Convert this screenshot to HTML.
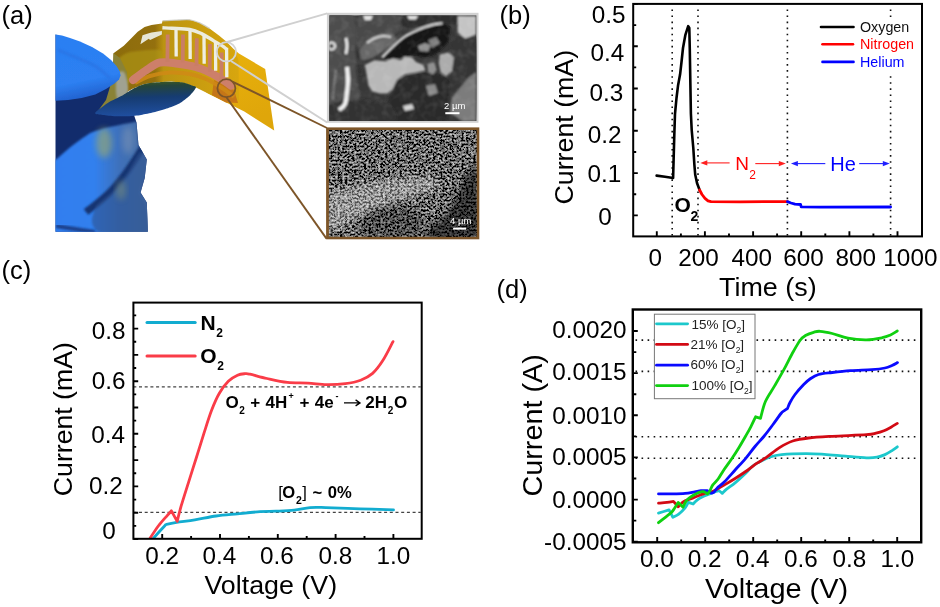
<!DOCTYPE html>
<html><head><meta charset="utf-8"><style>
html,body{margin:0;padding:0;background:#fff;width:940px;height:607px;overflow:hidden}
svg{display:block;font-family:"Liberation Sans", sans-serif;will-change:transform}
</style></head><body>
<svg width="940" height="607" viewBox="0 0 940 607">
<rect width="940" height="607" fill="#fff"/>
<defs>
<filter id="bl1" x="-10%" y="-10%" width="120%" height="120%"><feGaussianBlur stdDeviation="1.2"/></filter>
<filter id="bl2" x="-30%" y="-30%" width="160%" height="160%"><feGaussianBlur stdDeviation="3"/></filter>
<filter id="bl4" x="-30%" y="-30%" width="160%" height="160%"><feGaussianBlur stdDeviation="5"/></filter>
<filter id="bl05"><feGaussianBlur stdDeviation="0.5"/></filter>
<filter id="bl08"><feGaussianBlur stdDeviation="0.8"/></filter>
<linearGradient id="gIdx" x1="0" y1="0" x2="0.2" y2="1">
 <stop offset="0" stop-color="#2b7ff2"/><stop offset="0.75" stop-color="#2d80f2"/><stop offset="1" stop-color="#2262d0"/></linearGradient>
<linearGradient id="gMid" x1="0" y1="0" x2="1" y2="0">
 <stop offset="0" stop-color="#2f7ef0"/><stop offset="0.45" stop-color="#3280ee"/><stop offset="0.7" stop-color="#3f70b8"/><stop offset="1" stop-color="#4a6ea0"/></linearGradient>
<linearGradient id="gLow" x1="0" y1="0" x2="1" y2="0.4">
 <stop offset="0" stop-color="#2f7ae8"/><stop offset="0.6" stop-color="#2f6cc8"/><stop offset="1" stop-color="#3f6aa6"/></linearGradient>
<linearGradient id="gFilm" x1="0" y1="0" x2="1" y2="0">
 <stop offset="0" stop-color="#8c6c0c"/><stop offset="0.33" stop-color="#94700e"/><stop offset="0.40" stop-color="#bb9412"/><stop offset="1" stop-color="#d8a60e"/></linearGradient>
<linearGradient id="gStrip" x1="0" y1="0" x2="0.4" y2="1">
 <stop offset="0" stop-color="#e9b20c"/><stop offset="1" stop-color="#dfa60a"/></linearGradient>
<linearGradient id="gUnder" x1="0" y1="0" x2="0.1" y2="1">
 <stop offset="0" stop-color="#44601a"/><stop offset="0.18" stop-color="#24453c"/><stop offset="0.5" stop-color="#163c72"/><stop offset="1" stop-color="#1f4e9e"/></linearGradient>
<filter id="semN" x="0" y="0" width="100%" height="100%">
 <feTurbulence type="fractalNoise" baseFrequency="0.42 0.5" numOctaves="3" seed="11"/>
 <feColorMatrix type="matrix" values="1.5 0 0 0 -0.6  1.5 0 0 0 -0.6  1.5 0 0 0 -0.6  0 0 0 0 1"/>
 <feGaussianBlur stdDeviation="0.4"/>
</filter>
<filter id="semN1" x="0" y="0" width="100%" height="100%">
 <feTurbulence type="fractalNoise" baseFrequency="0.12" numOctaves="2" seed="5"/>
 <feColorMatrix type="matrix" values="0 0 0 0 1  0 0 0 0 1  0 0 0 0 1  1.2 0 0 0 -0.5"/>
</filter>
<clipPath id="cS1"><rect x="329.2" y="15.2" width="147.4" height="105.8"/></clipPath>
<clipPath id="cS2"><rect x="328.9" y="130" width="147.8" height="106.7"/></clipPath>
</defs>
<clipPath id="cGlove"><path d="M55.5,34.5 L70.8,40.4 L91.5,47.3 L108.8,59.4 L117.5,71.5 L121.0,81.9 L124.0,92.0 L128.0,104.0 L133.0,112.0 L136.5,122.4 L138.5,145.0 L146.8,159.4 L144.7,178.0 L140.6,192.4 L146.8,202.6 L147.8,231.8 L55.5,231.8 Z"/></clipPath>
<path d="M55.5,34.5 L70.8,40.4 L91.5,47.3 L108.8,59.4 L117.5,71.5 L121.0,81.9 L124.0,92.0 L128.0,104.0 L133.0,112.0 L136.5,122.4 L138.5,145.0 L146.8,159.4 L144.7,178.0 L140.6,192.4 L146.8,202.6 L147.8,231.8 L55.5,231.8 Z" fill="#122c6c"/>
<g clip-path="url(#cGlove)">
<path d="M50.0,162.0 C50.5,155.3 54.5,160.7 56.2,159.4 C57.9,158.2 67.7,149.2 70.6,147.0 C73.5,144.8 87.8,134.3 91.2,132.6 C94.6,130.9 108.4,127.3 111.8,126.5 C115.2,125.7 130.3,122.7 132.4,122.4 C134.5,122.1 136.4,121.1 137.0,123.0 C137.6,124.9 138.2,142.0 139.0,145.0 C139.8,148.0 146.5,156.7 147.0,159.4 C147.5,162.2 145.5,175.2 145.0,178.0 C144.5,180.8 140.8,190.3 141.0,192.4 C141.2,194.5 146.2,198.6 147.0,202.6 C147.8,206.6 158.1,236.9 150.0,240.0 C141.9,243.1 58.3,246.5 50.0,240.0 C41.7,233.5 49.5,168.7 50.0,162.0 Z" fill="url(#gMid)" filter="url(#bl1)"/>
<path d="M86.0,212.0 C87.5,210.8 91.0,208.3 95.0,205.0 C99.0,201.7 105.0,197.2 110.0,192.0 C115.0,186.8 120.7,179.7 125.0,174.0 C129.3,168.3 133.2,162.3 136.0,158.0 C138.8,153.7 141.0,149.7 142.0,148.0" stroke="#183672" stroke-width="7" fill="none" filter="url(#bl1)"/>
<path d="M96.0,206.0 C98.0,203.0 108.8,195.4 112.0,192.0 C115.2,188.6 125.2,176.0 128.0,172.0 C130.8,168.0 138.2,153.2 140.0,152.0 C141.8,150.8 145.5,157.4 146.0,160.0 C146.5,162.6 145.6,174.8 145.0,178.0 C144.4,181.2 139.9,189.4 140.0,192.0 C140.1,194.6 145.2,200.0 146.0,204.0 C146.8,208.0 152.6,229.2 148.0,232.0 C143.4,234.8 105.6,233.0 100.0,232.0 C94.4,231.0 92.4,224.6 92.0,222.0 C91.6,219.4 94.0,209.0 96.0,206.0 Z" fill="#2f5290" opacity="0.6" filter="url(#bl1)"/>
<path d="M56.0,226.0 C59.2,226.5 68.5,228.0 75.0,229.0 C81.5,230.0 91.7,231.5 95.0,232.0" stroke="#1a3f8a" stroke-width="4" fill="none" filter="url(#bl1)"/>
<ellipse cx="104" cy="143" rx="8" ry="15" fill="#a8b060" opacity="0.55" filter="url(#bl2)"/>
<ellipse cx="121" cy="190" rx="5" ry="10" fill="#8a9a70" opacity="0.45" filter="url(#bl2)"/>
<ellipse cx="128" cy="140" rx="6" ry="14" fill="#8a9cb8" opacity="0.45" filter="url(#bl2)"/>
</g>
<path d="M233.6,48.9 L238.9,53.6 L265.2,68.9 L274.2,130.5 L244.3,111.5 L226.2,102.5 L208.1,93.4 L200.0,88.0 Z" fill="url(#gStrip)"/>
<path d="M113.5,53.3 L123.8,45.7 L130.8,38.8 L137.7,31.8 L144.6,27.0 L151.5,24.9 L161.9,23.5 L162.6,20.8 L175.0,20.2 L189.7,19.8 L199.2,22.7 L209.9,28.7 L219.3,35.8 L226.5,41.7 L233.6,48.9 L238.5,60.0 L239.0,100.0 L226.2,102.5 L208.1,93.4 L196.0,87.4 L184.2,83.0 L171.5,81.5 L156.4,82.3 L143.6,84.3 L132.0,89.0 L122.0,95.0 L113.6,97.0 Z" fill="url(#gFilm)"/>
<path d="M118.0,60.0 C119.0,56.7 125.8,53.0 130.0,52.0 C134.2,51.0 156.8,48.8 160.0,50.0 C163.2,51.2 163.0,61.8 162.0,64.0 C161.0,66.2 152.8,70.4 150.0,72.0 C147.2,73.6 137.0,78.7 134.0,80.0 C131.0,81.3 121.6,87.0 120.0,85.0 C118.4,83.0 117.0,63.3 118.0,60.0 Z" fill="#b09a18" opacity="0.6" filter="url(#bl1)"/>
<path d="M113.5,53.3 L120.0,58.0 L127.0,72.0 L128.0,98.0 L122.0,104.0 L96.0,113.5 L106.0,100.0 L112.0,80.0 Z" fill="#8a8236"/>
<path d="M117.0,74.0 C118.1,71.3 122.5,70.4 124.0,72.0 C125.5,73.6 127.7,82.3 128.0,86.0 C128.3,89.7 127.2,97.6 126.0,100.0 C124.8,102.4 120.3,105.1 119.0,104.0 C117.7,102.9 116.3,96.0 116.0,92.0 C115.7,88.0 115.9,76.7 117.0,74.0 Z" fill="#aab0b8" opacity="0.7" filter="url(#bl08)"/>
<path d="M95.1,113.0 C95.8,111.5 106.1,104.1 109.2,102.1 C112.3,100.1 119.2,97.2 121.9,95.7 C124.6,94.2 129.6,90.7 132.1,89.4 C134.6,88.1 140.8,85.1 143.6,84.3 C146.4,83.5 153.4,82.6 156.4,82.3 C159.4,82.0 166.2,81.7 169.2,81.7 C172.2,81.7 179.2,81.9 181.9,82.3 C184.6,82.7 190.5,84.9 192.1,85.5 C193.7,86.1 196.3,86.2 196.0,87.4 C195.7,88.6 191.5,93.8 189.6,95.7 C187.7,97.6 182.1,101.9 179.4,103.4 C176.7,104.9 169.6,107.5 166.6,108.5 C163.6,109.5 156.8,111.6 153.8,112.3 C150.8,113.0 144.1,114.4 141.1,114.9 C138.1,115.4 131.3,116.0 128.3,116.2 C125.3,116.4 118.5,116.4 115.5,116.2 C112.5,116.0 105.2,115.3 102.8,114.9 C100.4,114.5 94.4,114.5 95.1,113.0 Z" fill="url(#gUnder)"/>
<path d="M55.5,34.5 L62.0,35.5 L70.0,38.0 L80.0,41.5 L92.0,47.0 L103.0,53.5 L111.0,60.0 L116.5,66.0 L119.8,71.5 L120.6,75.5 L119.0,79.5 L114.5,83.5 L106.0,89.0 L95.3,94.4 L81.7,98.0 L68.1,99.9 L55.5,100.8 Z" fill="url(#gIdx)" filter="url(#bl05)"/>
<path d="M58.0,50.0 C60.8,51.2 68.8,54.3 75.0,57.0 C81.2,59.7 89.2,62.5 95.0,66.0 C100.8,69.5 107.5,76.0 110.0,78.0" stroke="#2a72e2" stroke-width="3" fill="none" filter="url(#bl1)" opacity="0.7"/>
<path d="M214.0,80.0 L234.0,90.0 L238.0,103.0 L226.0,102.5 L212.0,95.0 Z" fill="#c0641a" opacity="0.7" filter="url(#bl05)"/>
<path d="M135.0,83.0 C137.5,81.8 144.2,77.8 150.0,76.0 C155.8,74.2 163.3,72.8 170.0,72.5 C176.7,72.2 184.0,72.9 190.0,74.0 C196.0,75.1 200.7,76.7 206.0,79.0 C211.3,81.3 217.3,85.0 222.0,88.0 C226.7,91.0 232.0,95.5 234.0,97.0" stroke="#d08a14" stroke-width="4" fill="none" opacity="0.85" filter="url(#bl05)"/>
<path d="M133.0,80.0 C135.0,78.5 140.5,73.9 145.0,71.0 C149.5,68.1 154.5,63.7 160.0,62.5 C165.5,61.3 171.9,63.0 177.8,63.7 C183.7,64.5 190.2,65.5 195.6,67.0 C200.9,68.5 205.6,70.6 209.9,72.6 C214.2,74.6 218.1,77.0 221.7,79.2 C225.2,81.4 229.6,84.5 231.2,85.6" stroke="#cd7f6a" stroke-width="8" fill="none" stroke-linecap="round"/>
<line x1="167.7" y1="34.6" x2="167.39999999999998" y2="62" stroke="#c97e66" stroke-width="3.8"/>
<line x1="183" y1="34.6" x2="182.7" y2="62.5" stroke="#c97e66" stroke-width="3.8"/>
<line x1="196.8" y1="38.2" x2="196.5" y2="66" stroke="#c97e66" stroke-width="3.8"/>
<line x1="210" y1="44.1" x2="209.7" y2="72" stroke="#c97e66" stroke-width="3.8"/>
<line x1="221.7" y1="52.4" x2="221.39999999999998" y2="80" stroke="#c97e66" stroke-width="3.8"/>
<path d="M162.4,27.8 C164.0,27.9 167.4,28.0 171.9,28.3 C176.4,28.6 184.8,28.6 189.7,29.5 C194.6,30.4 197.6,31.8 201.5,33.6 C205.4,35.5 209.6,38.4 213.4,40.6 C217.2,42.9 221.8,45.5 224.1,47.1 C226.4,48.7 226.5,49.5 227.0,50.0" stroke="#ececdf" stroke-width="3.4" fill="none"/>
<path d="M140.4,44.3 L142.5,35.3 L148.8,33.2 L151.5,32.5 L161.9,31.1 L161.9,34.6 L150.1,40.1 L148.8,38.8 Z" fill="#e6e6d6"/>
<line x1="176" y1="29.9" x2="176.2" y2="56.6" stroke="#eeeee2" stroke-width="3.3"/>
<line x1="190" y1="31" x2="190.2" y2="59" stroke="#eeeee2" stroke-width="3.3"/>
<line x1="204" y1="35.8" x2="204.2" y2="63.7" stroke="#eeeee2" stroke-width="3.3"/>
<line x1="215.5" y1="41.7" x2="215.7" y2="70.8" stroke="#eeeee2" stroke-width="3.3"/>
<line x1="226.6" y1="47.7" x2="226.79999999999998" y2="77.3" stroke="#eeeee2" stroke-width="3.3"/>
<path d="M162.6,20.8 C164.7,20.7 170.5,20.4 175.0,20.2 C179.5,20.0 185.7,19.4 189.7,19.8 C193.7,20.2 195.8,21.2 199.2,22.7 C202.6,24.2 208.1,27.7 209.9,28.7" stroke="#c8c8c0" stroke-width="1.3" fill="none" opacity="0.8"/>
<circle cx="226.4" cy="51.8" r="9.6" fill="none" stroke="#d4d4d4" stroke-width="1.8"/>
<line x1="226.4" y1="42.2" x2="327.2" y2="13.4" stroke="#d0d0d0" stroke-width="2"/>
<line x1="231" y1="61" x2="327.2" y2="122.5" stroke="#d0d0d0" stroke-width="2"/>
<circle cx="226.4" cy="88.2" r="9" fill="none" stroke="#7d5528" stroke-width="1.8"/>
<line x1="232.9" y1="81.8" x2="327" y2="128" stroke="#7d5528" stroke-width="1.9"/>
<line x1="226.4" y1="97.2" x2="326.5" y2="238.6" stroke="#7d5528" stroke-width="1.9"/>
<rect x="326.9" y="12.8" width="151.6" height="110" fill="#d2d2d2"/>
<g clip-path="url(#cS1)">
<rect x="329.2" y="15.2" width="147.4" height="105.8" fill="#383838"/>
<g filter="url(#bl08)">
<path d="M329.0,15.0 C331.3,4.4 349.1,12.5 352.0,15.0 C354.9,17.5 357.6,34.5 358.0,40.0 C358.4,45.5 355.8,64.0 356.0,70.0 C356.2,76.0 360.0,94.9 360.0,100.0 C360.0,105.1 359.1,118.9 356.0,121.0 C352.9,123.1 331.7,131.6 329.0,121.0 C326.3,110.4 326.7,25.6 329.0,15.0 Z" fill="#4e4e4e"/>
<path d="M360.0,15.0 C364.4,12.5 395.5,13.7 400.0,15.0 C404.5,16.3 406.5,25.5 405.0,28.0 C403.5,30.5 388.5,37.3 385.0,40.0 C381.5,42.7 372.3,53.0 370.0,55.0 C367.7,57.0 363.4,61.5 362.0,60.0 C360.6,58.5 356.2,44.5 356.0,40.0 C355.8,35.5 355.6,17.5 360.0,15.0 Z" fill="#4a4a4a"/>
<path d="M360.0,50.0 C360.6,48.0 366.0,41.6 368.0,40.0 C370.0,38.4 377.6,34.7 380.0,34.0 C382.4,33.3 390.4,32.4 392.0,33.0 C393.6,33.6 396.7,38.3 396.0,40.0 C395.3,41.7 387.4,48.2 385.0,50.0 C382.6,51.8 374.3,57.0 372.0,58.0 C369.7,59.0 363.2,60.8 362.0,60.0 C360.8,59.2 359.4,52.0 360.0,50.0 Z" fill="#686868"/>
<path d="M381.9,57.4 C382.0,56.2 389.0,50.0 391.3,47.9 C393.6,45.8 401.8,38.4 404.6,36.5 C407.5,34.6 417.2,30.1 419.8,29.0 C422.4,27.9 428.8,25.8 431.1,25.2 C433.4,24.6 440.6,23.0 442.5,23.3 C444.4,23.6 449.4,26.1 450.0,28.0 C450.6,29.9 449.2,39.6 448.0,42.0 C446.8,44.4 440.0,50.5 438.0,52.0 C436.0,53.5 430.4,56.6 428.0,57.0 C425.6,57.4 416.8,55.9 414.0,56.0 C411.2,56.1 402.4,57.6 400.0,58.0 C397.6,58.4 391.8,60.1 390.0,60.0 C388.2,59.9 381.8,58.6 381.9,57.4 Z" fill="#171717"/>
<path d="M405.0,15.5 C410.4,14.4 450.9,14.7 456.0,15.5 C461.1,16.4 458.1,23.1 456.0,24.0 C453.9,24.9 439.1,23.6 435.0,24.0 C430.9,24.4 418.3,27.8 415.0,28.0 C411.7,28.2 403.0,27.2 402.0,26.0 C401.0,24.8 399.6,16.6 405.0,15.5 Z" fill="#2e2e2e"/>
<path d="M398.0,80.0 C401.5,76.8 413.1,73.7 418.0,73.0 C422.9,72.3 436.0,72.7 440.0,74.0 C444.0,75.3 450.2,80.4 452.0,84.0 C453.8,87.6 455.8,100.7 455.0,105.0 C454.2,109.3 452.4,119.1 445.0,121.0 C437.6,122.9 398.6,123.5 392.0,121.0 C385.4,118.5 387.3,104.8 388.0,100.0 C388.7,95.2 394.5,83.2 398.0,80.0 Z" fill="#2a2a2a"/>
<path d="M452.0,40.0 C454.6,35.8 473.6,29.9 476.0,38.0 C478.4,46.1 478.8,112.7 476.0,121.0 C473.2,129.3 450.6,125.1 448.0,121.0 C445.4,116.9 449.6,88.1 450.0,80.0 C450.4,71.9 449.4,44.2 452.0,40.0 Z" fill="#353535"/>
<path d="M330.0,104.0 C333.0,101.9 354.0,100.0 360.0,100.0 C366.0,100.0 386.5,101.9 390.0,104.0 C393.5,106.1 401.0,119.3 395.0,121.0 C389.0,122.7 336.5,122.7 330.0,121.0 C323.5,119.3 327.0,106.1 330.0,104.0 Z" fill="#333"/>
<path d="M364.8,65.0 L374.3,60.2 L385.6,61.2 L393.2,58.3 L400.8,60.2 L404.6,56.4 L412.2,57.4 L416.0,62.1 L423.5,65.0 L425.4,70.6 L416.0,72.5 L404.6,74.4 L397.0,80.1 L392.3,89.6 L387.5,93.4 L380.0,93.4 L372.4,91.5 L368.6,85.8 L366.7,74.4 Z" fill="#b8b8b8"/>
<path d="M439.7,54.5 L448.2,52.6 L453.9,57.4 L452.0,70.6 L446.3,76.3 L440.6,72.5 L438.7,63.1 Z" fill="#acacac"/>
<path d="M427.3,64.0 L434.0,62.0 L436.8,70.0 L433.0,74.4 L428.0,72.0 Z" fill="#909090"/>
<path d="M418.0,46.0 L425.0,43.0 L431.0,45.0 L428.0,51.7 L420.0,51.0 Z" fill="#8e8e8e"/>
<path d="M428.0,40.0 L436.0,37.0 L440.0,43.0 L432.0,48.0 Z" fill="#7e7e7e"/>
<path d="M457.7,16.0 L476.0,16.0 L476.0,34.6 L465.2,38.4 L457.7,32.7 Z" fill="#c4c4c4"/>
<path d="M452.0,98.0 L468.0,78.0 L476.0,72.0 L476.0,121.0 L462.0,121.0 L450.0,112.0 Z" fill="#7c7c7c"/>
<path d="M426.0,86.0 L435.0,84.0 L438.0,93.0 L429.0,96.0 Z" fill="#8c8c8c"/>
<path d="M403.0,106.0 L412.0,104.0 L414.0,109.0 L405.0,111.0 Z" fill="#d4d4d4"/>
<path d="M363.0,15.5 L373.0,15.5 L371.0,20.0 L365.0,20.0 Z" fill="#e4e4e4"/>
<path d="M407.0,15.5 L418.0,15.5 L416.0,19.5 L409.0,19.5 Z" fill="#e4e4e4"/>
<path d="M381.9,57.4 C383.5,55.8 387.5,51.4 391.3,47.9 C395.1,44.4 399.9,39.6 404.6,36.5 C409.4,33.4 415.4,30.9 419.8,29.0 C424.2,27.1 427.3,26.1 431.1,25.2 C434.9,24.2 440.6,23.6 442.5,23.3" stroke="#e4e4e4" stroke-width="2" fill="none"/>
<path d="M367.0,43.0 C368.2,42.2 371.3,39.7 374.0,38.5 C376.7,37.3 380.2,36.2 383.0,36.0 C385.8,35.8 389.7,36.8 391.0,37.0" stroke="#d8d8d8" stroke-width="2" fill="none"/>
<path d="M346.0,38.0 C346.2,39.3 347.0,43.3 347.0,46.0 C347.0,48.7 346.2,52.7 346.0,54.0" stroke="#f4f4f4" stroke-width="2.5" fill="none"/>
<path d="M347.0,67.0 C347.2,69.2 348.0,75.8 348.0,80.0 C348.0,84.2 347.5,88.0 347.0,92.0 C346.5,96.0 346.3,101.0 345.0,104.0 C343.7,107.0 340.0,109.0 339.0,110.0" stroke="#f4f4f4" stroke-width="4" fill="none"/>
<circle cx="331.5" cy="46" r="3.5" fill="none" stroke="#eee" stroke-width="2"/>
<path d="M356.0,45.0 C356.3,47.5 357.3,55.0 358.0,60.0 C358.7,65.0 359.7,72.5 360.0,75.0" stroke="#333" stroke-width="3" fill="none"/>
<path d="M336.0,70.0 C335.7,72.5 334.5,80.0 334.0,85.0 C333.5,90.0 333.2,97.5 333.0,100.0" stroke="#777" stroke-width="2" fill="none"/>
</g>
<rect x="329.2" y="15.2" width="147.4" height="105.8" filter="url(#semN1)" opacity="0.18"/>
<text x="444" y="108.5" font-size="9.5" fill="#fff">2 µm</text>
<rect x="445.3" y="112.2" width="14.2" height="2" fill="#fff"/>
</g>
<rect x="326.1" y="127.4" width="153.2" height="111.9" fill="#7d5528"/>
<g clip-path="url(#cS2)">
<rect x="328.9" y="130" width="147.8" height="106.7" filter="url(#semN)"/>
<path d="M329.0,195.0 C334.2,187.5 348.2,187.8 360.0,185.0 C371.8,182.2 388.0,179.2 400.0,178.0 C412.0,176.8 425.3,176.7 432.0,178.0 C438.7,179.3 442.8,183.0 440.0,186.0 C437.2,189.0 425.0,192.3 415.0,196.0 C405.0,199.7 390.8,203.7 380.0,208.0 C369.2,212.3 358.5,218.3 350.0,222.0 C341.5,225.7 332.5,234.5 329.0,230.0 C325.5,225.5 323.8,202.5 329.0,195.0 Z" fill="#fff" opacity="0.32" filter="url(#bl2)"/>
<path d="M465.0,178.0 C468.2,173.5 475.0,158.2 477.0,168.0 C479.0,177.8 485.7,225.5 477.0,237.0 C468.3,248.5 430.3,240.7 425.0,237.0 C419.7,233.3 439.5,222.0 445.0,215.0 C450.5,208.0 454.7,201.2 458.0,195.0 C461.3,188.8 461.8,182.5 465.0,178.0 Z" fill="#000" opacity="0.55" filter="url(#bl2)"/>
<path d="M365.0,215.0 C370.0,209.8 385.8,206.2 395.0,206.0 C404.2,205.8 416.7,208.8 420.0,214.0 C423.3,219.2 424.2,233.2 415.0,237.0 C405.8,240.8 373.3,240.7 365.0,237.0 C356.7,233.3 360.0,220.2 365.0,215.0 Z" fill="#000" opacity="0.25" filter="url(#bl2)"/>
<text x="450" y="223.5" font-size="9.5" fill="#fff">4 µm</text>
<rect x="453.1" y="227.6" width="12.9" height="2" fill="#fff"/>
</g>
<text x="1.5" y="24" font-size="25.5" text-anchor="start" font-weight="normal" fill="#000" >(a)</text>
<text x="499.5" y="23.7" font-size="25.5" text-anchor="start" font-weight="normal" fill="#000" >(b)</text>
<text x="1.5" y="279.4" font-size="25.5" text-anchor="start" font-weight="normal" fill="#000" >(c)</text>
<text x="496.5" y="297.8" font-size="25.5" text-anchor="start" font-weight="normal" fill="#000" >(d)</text>
<line x1="672.2" y1="9.4" x2="672.2" y2="235.4" stroke="#111" stroke-width="1.6" stroke-dasharray="1.6 4.47"/>
<line x1="698.0" y1="9.4" x2="698.0" y2="235.4" stroke="#111" stroke-width="1.6" stroke-dasharray="1.6 4.47"/>
<line x1="787.4" y1="9.4" x2="787.4" y2="235.4" stroke="#111" stroke-width="1.6" stroke-dasharray="1.6 4.47"/>
<line x1="890.6" y1="9.4" x2="890.6" y2="235.4" stroke="#111" stroke-width="1.6" stroke-dasharray="1.6 4.47"/>
<path d="M633.2,215.4h4.6 M633.2,194.2h3.0 M633.2,173.1h4.6 M633.2,152.0h3.0 M633.2,130.8h4.6 M633.2,109.7h3.0 M633.2,88.5h4.6 M633.2,67.4h3.0 M633.2,46.2h4.6 M633.2,25.1h3.0 M633.2,3.9h4.6 M656.8,236.4v-5.2 M680.9,236.4v-2.8 M704.9,236.4v-5.2 M729.0,236.4v-2.8 M753.1,236.4v-5.2 M777.1,236.4v-2.8 M801.2,236.4v-5.2 M825.3,236.4v-2.8 M849.4,236.4v-5.2 M873.4,236.4v-2.8 M897.5,236.4v-5.2" stroke="#000" stroke-width="1.9" fill="none"/>
<polyline points="656.6,175.6 665.0,176.8 673.1,178.0 673.6,160.0 674.3,135.0 675.0,113.8 676.5,98.0 678.0,85.8 680.1,74.3 681.5,62.0 683.0,48.0 685.4,34.8 688.2,26.2 689.3,28.0 689.8,50.0 690.3,80.0 690.9,113.8 691.7,130.0 693.3,148.0 694.4,165.0 695.2,174.5 697.0,183.0 699.6,190.0" fill="none" stroke="#000" stroke-width="2.6" stroke-linejoin="round" stroke-linecap="round" />
<polyline points="699.6,190.0 702.0,194.5 705.0,198.3 708.0,200.8 711.0,201.7 740.0,201.8 787.4,201.6" fill="none" stroke="#ff0000" stroke-width="2.8" stroke-linejoin="round" stroke-linecap="round" />
<polyline points="787.4,201.6 791.0,203.0 795.0,204.1 800.6,204.5 801.2,206.9 820.0,207.1 890.6,207.0" fill="none" stroke="#0000ff" stroke-width="2.8" stroke-linejoin="round" stroke-linecap="round" />
<line x1="729.6" y1="162.9" x2="705.9" y2="162.9" stroke="#ff2020" stroke-width="1.1"/><path d="M700.3,162.9 L707.3,160.3 L707.3,165.5 Z" fill="#ff2020"/>
<line x1="755.3" y1="163.6" x2="780.1999999999999" y2="163.6" stroke="#ff2020" stroke-width="1.1"/><path d="M785.8,163.6 L778.8,161.0 L778.8,166.2 Z" fill="#ff2020"/>
<text x="735.3" y="169.6" font-size="19" text-anchor="start" font-weight="normal" fill="#ff0000" >N</text>
<text x="749.3" y="178.9" font-size="12" text-anchor="start" font-weight="normal" fill="#ff0000" >2</text>
<line x1="825.3" y1="163.6" x2="796.5" y2="163.6" stroke="#2020ff" stroke-width="1.1"/><path d="M790.9,163.6 L797.9,161.0 L797.9,166.2 Z" fill="#2020ff"/>
<line x1="859.2" y1="163.6" x2="884.1999999999999" y2="163.6" stroke="#2020ff" stroke-width="1.1"/><path d="M889.8,163.6 L882.8,161.0 L882.8,166.2 Z" fill="#2020ff"/>
<text x="830.2" y="170.7" font-size="20" text-anchor="start" font-weight="normal" fill="#0000ff" >He</text>
<text x="674.45" y="212.3" font-size="21" text-anchor="start" font-weight="bold" fill="#000" >O</text>
<text x="690.6" y="221.0" font-size="14" text-anchor="start" font-weight="bold" fill="#000" >2</text>
<rect x="812" y="17.5" width="106" height="56.5" fill="#fff"/>
<line x1="821" y1="27" x2="853.5" y2="27" stroke="#000" stroke-width="2.6" stroke-linecap="round"/>
<line x1="822.5" y1="44.2" x2="853" y2="44.2" stroke="#ff0000" stroke-width="2.6" stroke-linecap="round"/>
<line x1="822.5" y1="61.9" x2="853.5" y2="61.9" stroke="#0000ff" stroke-width="2.6" stroke-linecap="round"/>
<text x="860.0" y="32.1" font-size="14.3" text-anchor="start" font-weight="normal" fill="#111" >Oxygen</text>
<text x="860.0" y="49.4" font-size="14.3" text-anchor="start" font-weight="normal" fill="#ff0000" >Nitrogen</text>
<text x="860.0" y="66.7" font-size="14.3" text-anchor="start" font-weight="normal" fill="#0000ff" >Helium</text>
<rect x="633.2" y="3.9" width="288.8" height="232.5" fill="none" stroke="#000" stroke-width="2"/>
<text x="608.6" y="22.9" font-size="24.3" text-anchor="middle" font-weight="normal" fill="#000" >0.5</text>
<text x="607.4" y="61.0" font-size="24.3" text-anchor="middle" font-weight="normal" fill="#000" >0.4</text>
<text x="606.4" y="100.8" font-size="24.3" text-anchor="middle" font-weight="normal" fill="#000" >0.3</text>
<text x="604.7" y="142.7" font-size="24.3" text-anchor="middle" font-weight="normal" fill="#000" >0.2</text>
<text x="604.5" y="182.4" font-size="24.3" text-anchor="middle" font-weight="normal" fill="#000" >0.1</text>
<text x="604.9" y="224.7" font-size="24.3" text-anchor="middle" font-weight="normal" fill="#000" >0</text>
<text x="655.2" y="265.6" font-size="24.3" text-anchor="middle" font-weight="normal" fill="#000" >0</text>
<text x="698.6" y="265.6" font-size="24.3" text-anchor="middle" font-weight="normal" fill="#000" >200</text>
<text x="751.7" y="265.6" font-size="24.3" text-anchor="middle" font-weight="normal" fill="#000" >400</text>
<text x="803.6" y="265.6" font-size="24.3" text-anchor="middle" font-weight="normal" fill="#000" >600</text>
<text x="855.8" y="265.6" font-size="24.3" text-anchor="middle" font-weight="normal" fill="#000" >800</text>
<text x="910.4" y="265.6" font-size="24.3" text-anchor="middle" font-weight="normal" fill="#000" >1000</text>
<text transform="translate(572.6,127.2) rotate(-90) scale(1.018,1)" font-size="26.3" text-anchor="middle">Current (mA)</text>
<text transform="translate(767.85,295.6) scale(1.03,1)" font-size="26.1" text-anchor="middle">Time (s)</text>
<line x1="133.3" y1="386.8" x2="420.7" y2="386.8" stroke="#444" stroke-width="1.2" stroke-dasharray="3 2.7"/>
<line x1="133.3" y1="512.3" x2="420.7" y2="512.3" stroke="#444" stroke-width="1.2" stroke-dasharray="3 2.7"/>
<path d="M133.4,539.0h4.8 M133.4,525.9h2.8 M133.4,512.7h4.8 M133.4,499.6h2.8 M133.4,486.4h4.8 M133.4,473.2h2.8 M133.4,460.1h4.8 M133.4,446.9h2.8 M133.4,433.8h4.8 M133.4,420.6h2.8 M133.4,407.5h4.8 M133.4,394.4h2.8 M133.4,381.2h4.8 M133.4,368.0h2.8 M133.4,354.9h4.8 M133.4,341.8h2.8 M133.4,328.6h4.8 M133.4,315.4h2.8 M162.2,538.8v-4.8 M191.1,538.8v-2.8 M220.0,538.8v-4.8 M248.9,538.8v-2.8 M277.8,538.8v-4.8 M306.7,538.8v-2.8 M335.6,538.8v-4.8 M364.5,538.8v-2.8 M393.4,538.8v-4.8" stroke="#000" stroke-width="1.9" fill="none"/>
<clipPath id="clipC"><rect x="133.4" y="302.6" width="288.3" height="236.2"/></clipPath><g clip-path="url(#clipC)">
<path d="M152.20,539.70 C153.33,538.42 156.72,534.53 159.00,532.00 C161.28,529.47 164.75,525.75 165.90,524.50 L165.90,524.50 C167.68,524.15 171.78,523.17 176.60,522.40 C181.42,521.63 188.22,520.97 194.80,519.90 C201.38,518.83 208.98,517.02 216.10,516.00 C223.22,514.98 230.18,514.52 237.50,513.80 C244.82,513.08 253.57,512.13 260.00,511.70 C266.43,511.27 270.40,511.47 276.10,511.20 C281.80,510.93 288.55,510.70 294.20,510.10 C299.85,509.50 304.73,508.02 310.00,507.60 C315.27,507.18 317.47,507.40 325.80,507.60 C334.13,507.80 348.72,508.42 360.00,508.80 C371.28,509.18 387.92,509.72 393.50,509.90" fill="none" stroke="#12acd0" stroke-width="2.8" stroke-linejoin="round" stroke-linecap="round"/>
<path d="M149.10,539.70 C150.63,537.42 155.25,530.07 158.30,526.00 C161.35,521.93 165.22,517.83 167.40,515.30 C169.58,512.77 170.73,511.55 171.40,510.80 L171.40,510.80 C172.37,512.57 176.23,519.63 177.20,521.40 L177.20,521.40 C177.85,518.87 179.18,512.80 181.10,506.20 C183.02,499.60 186.15,489.92 188.70,481.80 C191.25,473.68 193.85,465.62 196.40,457.50 C198.95,449.38 201.47,440.97 204.00,433.10 C206.53,425.23 209.07,416.90 211.60,410.30 C214.13,403.70 216.42,398.33 219.20,393.50 C221.98,388.67 225.25,384.35 228.30,381.30 C231.35,378.25 234.70,376.47 237.50,375.20 C240.30,373.93 243.02,373.87 245.10,373.70 C247.18,373.53 246.35,373.40 250.00,374.20 C253.65,375.00 260.77,377.13 267.00,378.50 C273.23,379.87 280.58,381.63 287.40,382.40 C294.22,383.17 301.37,382.73 307.90,383.10 C314.43,383.47 320.37,384.52 326.60,384.60 C332.83,384.68 339.63,384.33 345.30,383.60 C350.97,382.87 356.05,381.90 360.60,380.20 C365.15,378.50 368.90,376.67 372.60,373.40 C376.30,370.13 379.40,365.90 382.80,360.60 C386.20,355.30 391.30,344.77 393.00,341.60" fill="none" stroke="#fa3c48" stroke-width="2.8" stroke-linejoin="round" stroke-linecap="round"/>
</g>
<line x1="147" y1="322.5" x2="195.2" y2="322.5" stroke="#12acd0" stroke-width="3" stroke-linecap="round"/>
<line x1="147" y1="355.9" x2="195.2" y2="355.9" stroke="#fa3c48" stroke-width="3" stroke-linecap="round"/>
<text x="200.5" y="329.8" font-size="21" text-anchor="start" font-weight="bold" fill="#000" >N</text>
<text x="216.3" y="337.1" font-size="12" text-anchor="start" font-weight="bold" fill="#000" >2</text>
<text x="200.3" y="362.9" font-size="21" text-anchor="start" font-weight="bold" fill="#000" >O</text>
<text x="217.2" y="370.2" font-size="12" text-anchor="start" font-weight="bold" fill="#000" >2</text>
<text font-weight="bold" font-size="17"><tspan x="225.6" y="407.7">O</tspan><tspan x="239.2" y="413.9" font-size="10">2</tspan><tspan x="250.2" y="407.7">+</tspan><tspan x="265.6" y="407.7">4H</tspan><tspan x="288.4" y="399.2" font-size="9">+</tspan><tspan x="299.5" y="407.7">+</tspan><tspan x="314.7" y="407.7">4e</tspan><tspan x="335.4" y="398.9" font-size="9">-</tspan><tspan x="365.3" y="407.7">2H</tspan><tspan x="387.7" y="413.9" font-size="10">2</tspan><tspan x="393.9" y="407.7">O</tspan></text>
<path d="M344,402.9 H359.6 M355.6,399.9 L360,402.9 L355.6,405.9" fill="none" stroke="#000" stroke-width="1.3" stroke-linejoin="miter"/>
<text font-size="16.6"><tspan x="278.2" y="498.2">[</tspan><tspan x="282.3" y="498.2" font-weight="bold">O</tspan><tspan x="295.9" y="503.9" font-size="10.5" font-weight="bold">2</tspan><tspan x="302.2" y="498.2">]</tspan><tspan x="312.4" y="498.2" font-weight="bold">~</tspan><tspan x="327.8" y="498.2" font-weight="bold">0%</tspan></text>
<rect x="133.4" y="302.6" width="288.3" height="236.2" fill="none" stroke="#000" stroke-width="2"/>
<text x="108.75" y="339.0" font-size="24.3" text-anchor="middle" font-weight="normal" fill="#000" >0.8</text>
<text x="108.7" y="388.6" font-size="24.3" text-anchor="middle" font-weight="normal" fill="#000" >0.6</text>
<text x="108.2" y="442.6" font-size="24.3" text-anchor="middle" font-weight="normal" fill="#000" >0.4</text>
<text x="105.8" y="494.1" font-size="24.3" text-anchor="middle" font-weight="normal" fill="#000" >0.2</text>
<text x="109.0" y="539.3" font-size="24.3" text-anchor="middle" font-weight="normal" fill="#000" >0</text>
<text x="162.2" y="563.8" font-size="24.3" text-anchor="middle" font-weight="normal" fill="#000" >0.2</text>
<text x="219.5" y="563.8" font-size="24.3" text-anchor="middle" font-weight="normal" fill="#000" >0.4</text>
<text x="277.0" y="563.8" font-size="24.3" text-anchor="middle" font-weight="normal" fill="#000" >0.6</text>
<text x="335.4" y="563.8" font-size="24.3" text-anchor="middle" font-weight="normal" fill="#000" >0.8</text>
<text x="393.5" y="563.8" font-size="24.3" text-anchor="middle" font-weight="normal" fill="#000" >1.0</text>
<text transform="translate(72.4,419.2) rotate(-90) scale(1.013,1)" font-size="26.3" text-anchor="middle">Current (mA)</text>
<text transform="translate(270.75,593.6) scale(1.02,1)" font-size="26.3" text-anchor="middle">Voltage (V)</text>
<line x1="635.5" y1="340.1" x2="917.2" y2="340.1" stroke="#111" stroke-width="1.6" stroke-dasharray="1.6 4.45"/>
<line x1="635.5" y1="371.4" x2="917.2" y2="371.4" stroke="#111" stroke-width="1.6" stroke-dasharray="1.6 4.45"/>
<line x1="635.5" y1="436.8" x2="917.2" y2="436.8" stroke="#111" stroke-width="1.6" stroke-dasharray="1.6 4.45"/>
<line x1="635.5" y1="458.3" x2="917.2" y2="458.3" stroke="#111" stroke-width="1.6" stroke-dasharray="1.6 4.45"/>
<path d="M632.8,541.7h5 M632.8,520.6h3.5 M632.8,499.6h5 M632.8,478.5h3.5 M632.8,457.4h5 M632.8,436.4h3.5 M632.8,415.3h5 M632.8,394.2h3.5 M632.8,373.1h5 M632.8,352.1h3.5 M632.8,331.0h5 M657.2,542.3v-5.2 M681.2,542.3v-2.8 M705.2,542.3v-5.2 M729.2,542.3v-2.8 M753.2,542.3v-5.2 M777.2,542.3v-2.8 M801.2,542.3v-5.2 M825.2,542.3v-2.8 M849.2,542.3v-5.2 M873.2,542.3v-2.8 M897.2,542.3v-5.2" stroke="#000" stroke-width="1.9" fill="none"/>
<path d="M658.50,513.10 C660.27,512.57 667.33,510.43 669.10,509.90 L669.10,509.90 C669.73,511.13 672.27,516.07 672.90,517.30 L672.90,517.30 C673.87,516.77 676.67,515.68 678.70,514.10 C680.73,512.52 683.50,509.75 685.10,507.80 C686.70,505.85 687.77,503.30 688.30,502.40 L688.30,502.40 C689.10,502.67 692.30,503.73 693.10,504.00 L693.10,504.00 C693.72,503.38 695.30,501.45 696.80,500.30 C698.30,499.15 699.97,498.17 702.10,497.10 C704.23,496.03 707.28,494.87 709.60,493.90 C711.92,492.93 714.42,491.83 716.00,491.30 C717.58,490.77 718.58,490.80 719.10,490.70 L719.10,490.70 C719.63,491.15 721.77,492.95 722.30,493.40 L722.30,493.40 C723.02,492.68 724.47,490.87 726.60,489.10 C728.73,487.33 731.92,485.45 735.10,482.80 C738.28,480.15 742.88,475.92 745.70,473.20 C748.52,470.48 749.73,468.37 752.00,466.50 C754.27,464.63 756.30,463.58 759.30,462.00 C762.30,460.42 766.30,458.23 770.00,457.00 C773.70,455.77 775.52,455.17 781.50,454.60 C787.48,454.03 798.77,453.63 805.90,453.60 C813.03,453.57 817.72,453.97 824.30,454.40 C830.88,454.83 838.37,455.63 845.40,456.20 C852.43,456.77 861.23,457.63 866.50,457.80 C871.77,457.97 873.92,457.73 877.00,457.20 C880.08,456.67 882.50,455.70 885.00,454.60 C887.50,453.50 889.95,451.90 892.00,450.60 C894.05,449.30 896.42,447.43 897.30,446.80" fill="none" stroke="#1cc8cc" stroke-width="2.8" stroke-linejoin="round" stroke-linecap="round"/>
<path d="M658.50,503.20 C659.92,503.07 664.52,502.70 667.00,502.40 C669.48,502.10 672.33,501.57 673.40,501.40 L673.40,501.40 C674.20,502.28 677.40,505.82 678.20,506.70 L678.20,506.70 C678.82,506.08 680.75,503.97 681.90,503.00 C683.05,502.03 683.32,501.70 685.10,500.90 C686.88,500.10 690.12,499.18 692.60,498.20 C695.08,497.22 697.53,495.98 700.00,495.00 C702.47,494.02 705.45,492.83 707.40,492.30 C709.35,491.77 710.27,492.23 711.70,491.80 C713.13,491.37 713.87,490.85 716.00,489.70 C718.13,488.55 721.32,486.77 724.50,484.90 C727.68,483.03 731.20,480.98 735.10,478.50 C739.00,476.02 744.25,472.55 747.90,470.00 C751.55,467.45 753.92,465.30 757.00,463.20 C760.08,461.10 762.65,460.00 766.40,457.40 C770.15,454.80 775.12,450.33 779.50,447.60 C783.88,444.87 787.87,442.60 792.70,441.00 C797.53,439.40 801.92,438.78 808.50,438.00 C815.08,437.22 822.53,436.85 832.20,436.30 C841.87,435.75 859.20,435.22 866.50,434.70 C873.80,434.18 873.08,433.87 876.00,433.20 C878.92,432.53 881.50,431.70 884.00,430.70 C886.50,429.70 888.78,428.42 891.00,427.20 C893.22,425.98 896.25,424.03 897.30,423.40" fill="none" stroke="#d20a14" stroke-width="2.8" stroke-linejoin="round" stroke-linecap="round"/>
<path d="M658.50,493.90 C660.63,493.90 666.87,493.98 671.30,493.90 C675.73,493.82 681.20,493.75 685.10,493.40 C689.00,493.05 692.03,492.25 694.70,491.80 C697.37,491.35 698.98,490.88 701.10,490.70 C703.22,490.52 706.35,490.70 707.40,490.70 L707.40,490.70 C708.12,491.12 710.98,492.78 711.70,493.20 L711.70,493.20 C712.05,493.05 712.73,493.33 713.80,492.30 C714.87,491.27 716.32,488.77 718.10,487.00 C719.88,485.23 721.67,484.53 724.50,481.70 C727.33,478.87 731.57,473.90 735.10,470.00 C738.63,466.10 742.38,462.22 745.70,458.30 C749.02,454.38 751.92,450.22 755.00,446.50 C758.08,442.78 761.20,439.67 764.20,436.00 C767.20,432.33 770.20,428.25 773.00,424.50 C775.80,420.75 779.17,415.78 781.00,413.50 C782.83,411.22 783.50,411.25 784.00,410.80 L784.00,410.80 C784.58,410.42 786.92,408.88 787.50,408.50 L787.50,408.50 C787.92,407.50 788.75,404.83 790.00,402.50 C791.25,400.17 792.72,397.50 795.00,394.50 C797.28,391.50 801.20,387.08 803.70,384.50 C806.20,381.92 807.53,380.67 810.00,379.00 C812.47,377.33 814.80,375.58 818.50,374.50 C822.20,373.42 826.83,373.15 832.20,372.50 C837.57,371.85 844.10,371.08 850.70,370.60 C857.30,370.12 866.10,370.03 871.80,369.60 C877.50,369.17 881.53,368.68 884.90,368.00 C888.27,367.32 889.90,366.40 892.00,365.50 C894.10,364.60 896.58,363.08 897.50,362.60" fill="none" stroke="#0a0aff" stroke-width="2.8" stroke-linejoin="round" stroke-linecap="round"/>
<path d="M658.50,522.70 C659.75,521.72 663.87,518.48 666.00,516.80 C668.13,515.12 669.88,514.02 671.30,512.60 C672.72,511.18 673.35,510.00 674.50,508.30 C675.65,506.60 677.58,503.38 678.20,502.40 L678.20,502.40 C679.00,503.20 682.20,506.40 683.00,507.20 L683.00,507.20 C683.53,506.15 684.97,502.58 686.20,500.90 C687.43,499.22 688.82,498.27 690.40,497.10 C691.98,495.93 693.92,494.78 695.70,493.90 C697.48,493.02 699.67,492.15 701.10,491.80 C702.53,491.45 703.77,491.80 704.30,491.80 L704.30,491.80 C704.82,492.15 706.88,493.55 707.40,493.90 L707.40,493.90 C707.77,493.47 708.70,492.80 709.60,491.30 C710.50,489.80 711.38,486.95 712.80,484.90 C714.22,482.85 716.27,481.48 718.10,479.00 C719.93,476.52 721.47,473.45 723.80,470.00 C726.13,466.55 729.57,462.05 732.10,458.30 C734.63,454.55 736.73,451.22 739.00,447.50 C741.27,443.78 743.73,439.45 745.70,436.00 C747.67,432.55 749.15,430.00 750.80,426.80 C752.45,423.60 754.80,418.47 755.60,416.80 L755.60,416.80 C756.42,417.05 759.68,418.05 760.50,418.30 L760.50,418.30 C761.32,415.50 763.10,406.82 765.40,401.50 C767.70,396.18 771.20,391.75 774.30,386.40 C777.40,381.05 781.05,374.80 784.00,369.40 C786.95,364.00 789.33,358.82 792.00,354.00 C794.67,349.18 797.67,343.63 800.00,340.50 C802.33,337.37 803.73,336.57 806.00,335.20 C808.27,333.83 811.27,332.95 813.60,332.30 C815.93,331.65 816.90,331.10 820.00,331.30 C823.10,331.50 827.53,332.35 832.20,333.50 C836.87,334.65 842.28,337.15 848.00,338.20 C853.72,339.25 860.78,339.88 866.50,339.80 C872.22,339.72 878.38,338.47 882.30,337.70 C886.22,336.93 887.50,336.32 890.00,335.20 C892.50,334.08 896.08,331.70 897.30,331.00" fill="none" stroke="#10d010" stroke-width="2.8" stroke-linejoin="round" stroke-linecap="round"/>
<rect x="654.4" y="314.2" width="100.6" height="84.5" fill="#fff" stroke="#777" stroke-width="1"/>
<line x1="656.5" y1="323.8" x2="687.6" y2="323.8" stroke="#1cc8cc" stroke-width="2.8" stroke-linecap="round"/>
<line x1="656.5" y1="344.4" x2="687.6" y2="344.4" stroke="#d20a14" stroke-width="2.8" stroke-linecap="round"/>
<line x1="656.5" y1="365.2" x2="687.6" y2="365.2" stroke="#0a0aff" stroke-width="2.8" stroke-linecap="round"/>
<line x1="656.5" y1="385.6" x2="687.6" y2="385.6" stroke="#10d010" stroke-width="2.8" stroke-linecap="round"/>
<text x="691.5" y="328.5" font-size="13.5" fill="#222">15% [O<tspan font-size="8.5" dy="4">2</tspan><tspan dy="-4">]</tspan></text>
<text x="690.6" y="348.9" font-size="13.5" fill="#222">21% [O<tspan font-size="8.5" dy="4">2</tspan><tspan dy="-4">]</tspan></text>
<text x="690.6" y="369.4" font-size="13.5" fill="#222">60% [O<tspan font-size="8.5" dy="4">2</tspan><tspan dy="-4">]</tspan></text>
<text x="691.5" y="390.1" font-size="13.5" fill="#222">100% [O<tspan font-size="8.5" dy="4">2</tspan><tspan dy="-4">]</tspan></text>
<rect x="632.8" y="309.5" width="288.4" height="232.8" fill="none" stroke="#000" stroke-width="2.4"/>
<text x="626.5" y="338.0" font-size="24.3" text-anchor="end" font-weight="normal" fill="#000" >0.0020</text>
<text x="626.5" y="380.3" font-size="24.3" text-anchor="end" font-weight="normal" fill="#000" >0.0015</text>
<text x="626.5" y="423.8" font-size="24.3" text-anchor="end" font-weight="normal" fill="#000" >0.0010</text>
<text x="626.5" y="465.0" font-size="24.3" text-anchor="end" font-weight="normal" fill="#000" >0.0005</text>
<text x="626.5" y="507.6" font-size="24.3" text-anchor="end" font-weight="normal" fill="#000" >0.0000</text>
<text x="626.5" y="550.3" font-size="24.3" text-anchor="end" font-weight="normal" fill="#000" >-0.0005</text>
<text x="656.8" y="567.0" font-size="24.3" text-anchor="middle" font-weight="normal" fill="#000" >0.0</text>
<text x="704.7" y="567.0" font-size="24.3" text-anchor="middle" font-weight="normal" fill="#000" >0.2</text>
<text x="752.7" y="567.0" font-size="24.3" text-anchor="middle" font-weight="normal" fill="#000" >0.4</text>
<text x="801.0" y="567.0" font-size="24.3" text-anchor="middle" font-weight="normal" fill="#000" >0.6</text>
<text x="849.5" y="567.0" font-size="24.3" text-anchor="middle" font-weight="normal" fill="#000" >0.8</text>
<text x="897.4" y="567.0" font-size="24.3" text-anchor="middle" font-weight="normal" fill="#000" >1.0</text>
<text transform="translate(541.5,425.4) rotate(-90) scale(1.018,1)" font-size="28.3" text-anchor="middle">Current (A)</text>
<text transform="translate(776.6,598.1) scale(1.023,1)" font-size="28.3" text-anchor="middle">Voltage (V)</text>
</svg>
</body></html>
